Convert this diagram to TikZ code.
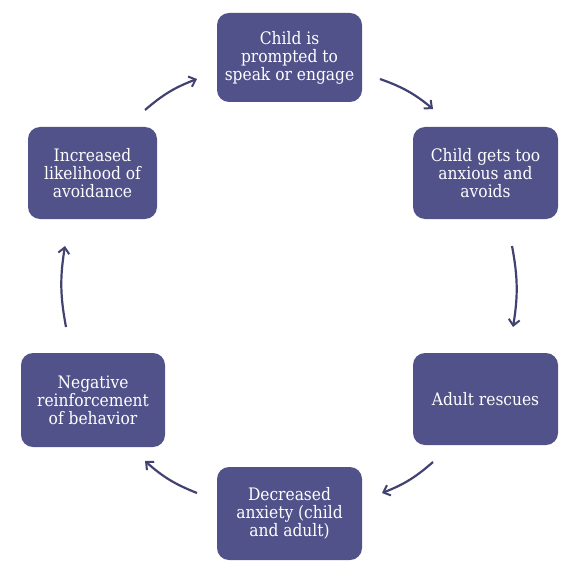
\documentclass[tikz,border=0pt]{standalone}
\usepackage{fontspec}
\setmainfont{DejaVu Serif Condensed}
\usetikzlibrary{arrows.meta}
\definecolor{boxfill}{RGB}{82,82,138}
\definecolor{arrowcol}{RGB}{66,66,112}
\begin{document}
\begin{tikzpicture}[x=1pt,y=-1pt,
  stepbox/.style={fill=boxfill,text=white,rounded corners=12pt,inner sep=0pt,
    align=center,font=\fontsize{17.2}{18}\selectfont,
    minimum width=145pt,minimum height=92pt},
  cyc/.style={draw=arrowcol,line width=2.2pt,
    -{Straight Barb[length=6pt,width=11pt,line width=2pt]},bend left=10}]
\useasboundingbox (0,0) rectangle (585,585);
\node[stepbox,minimum height=89pt] (top) at (289.5,57.5) {Child is\\prompted to\\speak or engage};
\node[stepbox] (rup) at (485.5,173) {Child gets too\\anxious and\\avoids};
\node[stepbox] (adult) at (485.5,399) {Adult rescues};
\node[stepbox,minimum height=93pt] (dec) at (289.5,513.5) {Decreased\\anxiety (child\\and adult)};
\node[stepbox,minimum width=144pt,minimum height=94pt] (neg) at (93,400) {Negative\\reinforcement\\of behavior};
\node[stepbox,minimum width=129pt] (inc) at (92.5,173) {Increased\\likelihood of\\avoidance};
\coordinate (a1s) at (380,79);
\coordinate (a1e) at (433,109);
\coordinate (a2s) at (512,246);
\coordinate (a2e) at (513,327);
\coordinate (a3s) at (433,462);
\coordinate (a3e) at (382,493);
\coordinate (a4s) at (197,493);
\coordinate (a4e) at (145,461);
\coordinate (a5s) at (66,327);
\coordinate (a5e) at (65,246);
\coordinate (a6s) at (145,110);
\coordinate (a6e) at (197,79);
\draw[cyc] (a1s) to (a1e);
\draw[cyc] (a2s) to (a2e);
\draw[cyc] (a3s) to (a3e);
\draw[cyc] (a4s) to (a4e);
\draw[cyc] (a5s) to (a5e);
\draw[cyc] (a6s) to (a6e);
\end{tikzpicture}
\end{document}
